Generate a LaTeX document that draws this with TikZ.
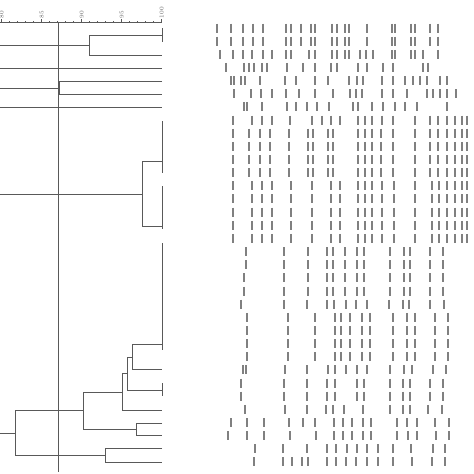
\documentclass[tikz,border=0pt]{standalone}
\usepackage{tikz}

% one row of gel bands: rows, band positions
\newcommand{\bandrows}[2]{%
  \foreach \r in {#1}{\foreach \bx in {#2}{%
    \draw[band] (\bx,{28+13.15*(\r-1)-4.5}) -- ++(0,9);}}}

\begin{document}
\begin{tikzpicture}[x=1pt,y=-1pt,
                    tree/.style={draw=black!65,line width=0.9pt},
                    band/.style={draw=black!50,line width=1.2pt},
                    scale label/.style={rotate=90,anchor=west,inner sep=0pt,
                                        font=\fontsize{6}{7}\selectfont,text=black!60}]
  \useasboundingbox (0,0) rectangle (474,474);

  % similarity scale
  \draw[tree,line width=0.5pt] (0,22) -- (162,22);
  \foreach \s in {0,...,20}
    \draw[tree,line width=0.5pt] ({1.7+8*\s},22) -- ++(0,-1.5);
  \foreach \s/\lab in {0/80,5/85,10/90,15/95,20/100}{
    \draw[tree,line width=0.5pt] ({1.7+8*\s},22) -- ++(0,-3);
    \node[scale label] (lab\lab) at ({1.7+8*\s},18.5) {\lab};
  }

  % cut-off line
  \draw[tree] (58,22) -- (58,472);

  % upper branches
  \draw[tree] (162,28) -- (162,42);
  \draw[tree] (162,35) -- (89,35) -- (89,55) -- (162,55);
  \draw[tree] (0,45) -- (89,45);
  \draw[tree] (0,68) -- (162,68);
  \draw[tree] (162,81) -- (59,81) -- (59,94) -- (162,94);
  \draw[tree] (0,88) -- (59,88);
  \draw[tree] (0,107.5) -- (162,107.5);

  % middle cluster
  \draw[tree] (162,121) -- (162,173);
  \draw[tree] (162,186) -- (162,229);
  \draw[tree] (162,161) -- (142,161) -- (142,226) -- (162,226);
  \draw[tree] (0,194) -- (142,194);

  % lower cluster
  \draw[tree] (162,243) -- (162,350);
  \draw[tree] (162,344) -- (132,344) -- (132,369) -- (162,369);
  \draw[tree] (132,357) -- (127,357) -- (127,390) -- (162,390);
  \draw[tree] (162,383) -- (162,396);
  \draw[tree] (127,373) -- (122,373) -- (122,410) -- (162,410);
  \draw[tree] (122,392) -- (83,392) -- (83,429) -- (136,429);
  \draw[tree] (162,423) -- (136,423) -- (136,435) -- (162,435);
  \draw[tree] (162,448) -- (105,448) -- (105,462) -- (162,462);
  \draw[tree] (83,410) -- (15,410) -- (15,455) -- (105,455);
  \draw[tree] (0,433) -- (15,433);

  % band patterns
  \bandrows{1,2}{217,231,243,253,263,286,291,301,311,315,332,337,345,349,367,392,395,411,415,430,438}
  \bandrows{3}{220,233,243,252,263,272,286,291,309,315,332,337,345,349,360,366,373,392,395,411,415,423,438}
  \bandrows{4}{226,244,249,254,262,267,287,303,315,331,337,358,367,383,393,423,428}
  \bandrows{5}{231,234,241,245,260,285,296,315,328,349,357,363,382,393,405,413,420,427,440,447}
  \bandrows{6}{234,251,261,272,286,299,315,333,350,356,362,382,393,407,427,433,440,447,456}
  \bandrows{7}{244,247,262,287,296,307,317,329,353,358,372,383,395,405,417,447}
  \bandrows{8}{233,252,262,272,290,312,322,331,340,358,365,372,382,393,415,430,438,447,455,462,467}
  \bandrows{9,...,12}{233,249,260,270,289,308,313,328,333,358,365,372,381,393,415,430,438,447,455,462,467}
  \bandrows{13,...,17}{233,252,262,272,291,312,331,340,358,365,372,382,394,415,432,439,447,455,462,467}
  \bandrows{18,19}{246,284,308,327,333,345,357,364,390,404,410,430,443}
  \bandrows{20,21}{244,284,308,327,333,345,357,364,390,404,410,430,443}
  \bandrows{22}{241,284,307,327,334,346,356,367,389,403,409,430,444}
  \bandrows{23,...,26}{247,288,315,335,341,350,362,370,393,407,415,435,448}
  \bandrows{27}{243,246,285,307,328,335,346,357,367,390,404,412,433,446}
  \bandrows{28,29}{241,284,307,327,335,357,364,390,403,410,430,443}
  \bandrows{30}{245,285,307,326,333,344,363,390,403,410,428,442}
  \bandrows{31}{231,247,264,289,303,315,334,343,352,363,371,397,407,417,435,449}
  \bandrows{32}{228,247,264,290,316,334,343,352,363,371,397,408,417,436,449}
  \bandrows{33}{255,283,307,327,336,347,357,367,378,393,411,433,445}
  \bandrows{34}{254,283,292,302,308,327,336,346,356,367,378,393,412,432,445}
\end{tikzpicture}
\end{document}
